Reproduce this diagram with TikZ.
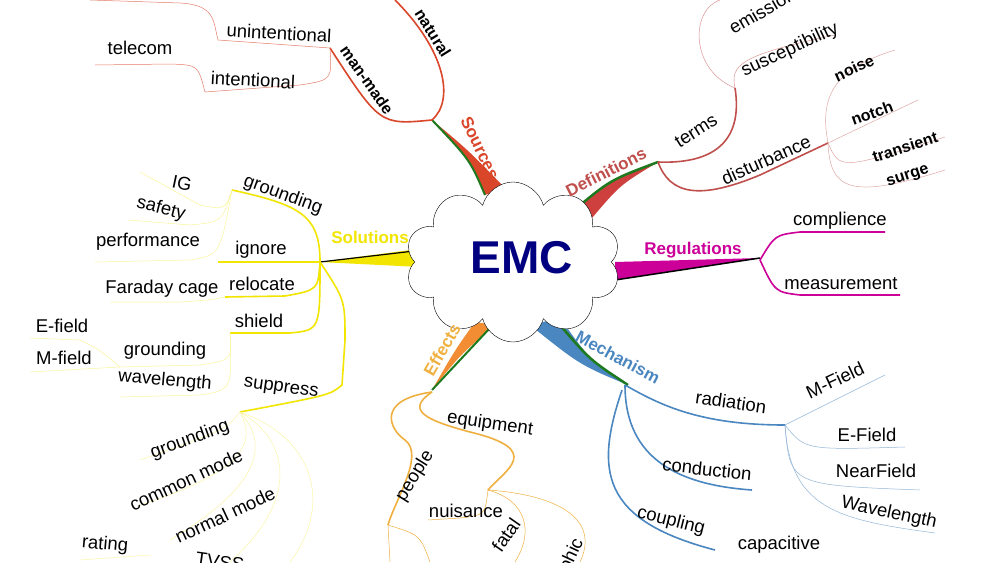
\documentclass[tikz,border=0pt]{standalone}
\usepackage{fontspec}
\setmainfont{Liberation Sans}
\usetikzlibrary{shapes.symbols}
\definecolor{csrc}{HTML}{D9462A}
\definecolor{cdef}{HTML}{C0504D}
\definecolor{creg}{HTML}{CC0099}
\definecolor{cmec}{HTML}{4A86C0}
\definecolor{ceff}{HTML}{F0B040}
\definecolor{csol}{HTML}{F2E600}
\definecolor{cgrn}{HTML}{1E7A1E}
\tikzset{
 lbl/.style={font=\fontsize{18.5}{21}\selectfont,inner sep=1pt},
 blbl/.style={font=\bfseries\fontsize{16}{19}\selectfont,inner sep=1pt},
 mlbl/.style={font=\bfseries\fontsize{17}{20}\selectfont,inner sep=1pt},
 br/.style={line width=1.6pt},
 thin/.style={line width=0.5pt},
}
\begin{document}
\begin{tikzpicture}[x=1pt,y=-1pt]
\clip (0,0) rectangle (1000,562);
\fill[white] (0,0) rectangle (1000,562);
% ---------- main tapered branches ----------
\fill[csrc] (485,195) .. controls (470,160) .. (432,120) .. controls (468,150) .. (505,188) -- cycle;
\draw[cgrn,line width=2pt] (485,195) .. controls (470,160) .. (432,120);
\fill[cdef!80!red] (572,212) .. controls (610,180) .. (658,162) .. controls (620,185) .. (592,218) -- cycle;
\draw[cgrn,line width=2.5pt] (572,212) .. controls (610,180) .. (658,162);
\fill[creg] (615,262) -- (760,258) -- (615,280) -- cycle;
\draw[black,line width=1.5pt] (615,280) -- (760,258);
\fill[cmec] (530,325) .. controls (580,365) .. (628,385) .. controls (590,360) .. (560,318) -- cycle;
\draw[cgrn,line width=2.5pt] (560,325) .. controls (590,360) .. (628,385);
\fill[ceff!80!red] (475,322) .. controls (455,350) .. (432,390) .. controls (460,355) .. (495,325) -- cycle;
\draw[cgrn,line width=2pt] (490,328) .. controls (460,360) .. (432,390);
\fill[csol] (440,246) -- (320,262) -- (440,268) -- cycle;
\draw[black,line width=1.2pt] (440,248) -- (320,262);
% ---------- cloud ----------
\node[cloud,cloud puffs=10,aspect=1.45,draw,fill=white,minimum width=215pt,minimum height=160pt,inner sep=0pt] (emc) at (513,262) {};
\node[font=\bfseries\fontsize{46}{50}\selectfont,text=blue!50!black] (emct) at (522,258) {EMC};
% ---------- main labels ----------
\node[mlbl,text=csrc,rotate=-64] (lsrc) at (480,148) {Sources};
\node[mlbl,text=cdef,rotate=27] (ldef) at (606,172) {Definitions};
\node[mlbl,text=creg] (lreg) at (693,250) {Regulations};
\node[mlbl,text=cmec,rotate=-28] (lmec) at (618,357) {Mechanism};
\node[mlbl,text=ceff,rotate=60] (leff) at (442,350) {Effects};
\node[mlbl,text=csol] (lsol) at (370,237) {Solutions};
% ---------- Sources ----------
\coordinate (hs) at (432,120);
\coordinate (mm) at (330,48);
\draw[csrc,br] (hs) .. controls (380,125) .. (330,48);
\draw[csrc,br] (hs) .. controls (455,100) and (445,50) .. (395,0);
\node[blbl,rotate=-55] (tmm) at (367,80) {man-made};
\node[blbl,rotate=-58] (tnat) at (433,33) {natural};
\draw[csrc!70,thin] (mm) -- (218,40) .. controls (213,20) and (215,5) .. (180,3) -- (90,0);
\node[lbl,rotate=-3] (tun) at (279,33) {unintentional};
\draw[csrc!70,thin] (mm) .. controls (332,80) .. (300,85) -- (205,92) .. controls (198,65) .. (170,64) -- (95,65);
\node[lbl,rotate=-3] (tint) at (253,80) {intentional};
\node[lbl] (ttel) at (140,48) {telecom};
% ---------- Definitions ----------
\coordinate (hd) at (658,162);
\coordinate (ht) at (735,88);
\coordinate (hdi) at (828,143);
\draw[cdef,br] (hd) .. controls (735,165) and (740,120) .. (ht);
\node[lbl,rotate=32] (tterm) at (696,131) {terms};
\draw[cdef,br] (hd) .. controls (670,195) and (700,200) .. (760,175) -- (hdi);
\node[lbl,rotate=24] (tdis) at (766,160) {disturbance};
\draw[cdef!60,thin] (ht) .. controls (690,70) and (690,10) .. (720,0);
\node[lbl,rotate=30] (temi) at (762,11) {emission};
\draw[cdef!60,thin] (ht) .. controls (730,65) and (740,55) .. (835,35);
\node[lbl,rotate=25] (tsus) at (790,50) {susceptibility};
\draw[cdef!50,thin] (hdi) .. controls (820,100) and (830,70) .. (895,50);
\draw[cdef!50,thin] (hdi) -- (918,100);
\draw[cdef!50,thin] (hdi) .. controls (840,170) .. (945,137);
\draw[cdef!50,thin] (hdi) .. controls (830,190) and (850,200) .. (945,170);
\node[blbl,rotate=25] (tnoi) at (854,68) {noise};
\node[blbl,rotate=20] (tnot) at (872,113) {notch};
\node[blbl,rotate=18] (ttra) at (905,147) {transient};
\node[blbl,rotate=18] (tsur) at (908,177) {surge};
% ---------- Regulations ----------
\coordinate (hr) at (760,260);
\draw[creg,br] (hr) .. controls (775,235) .. (800,232) -- (885,232);
\draw[creg,br] (hr) .. controls (775,292) .. (800,295) -- (900,295);
\node[lbl] (tcom) at (840,221) {complience};
\node[lbl] (tmea) at (841,284) {measurement};
% ---------- Mechanism ----------
\coordinate (hm) at (625,385);
\coordinate (hra) at (785,425);
\draw[cmec,br] (hm) .. controls (660,405) and (700,425) .. (hra);
\node[lbl,rotate=-8] (trad) at (731,402) {radiation};
\draw[cmec,br] (hm) .. controls (625,460) and (680,485) .. (752,490);
\node[lbl,rotate=-6] (tcon) at (707,469) {conduction};
\draw[cmec,br] (622,390) .. controls (595,470) and (600,520) .. (715,550);
\node[lbl,rotate=-14] (tcou) at (671,521) {coupling};
\node[lbl] (tcap) at (779,545) {capacitive};
\draw[cmec!60,thin] (hra) -- (885,375);
\draw[cmec!60,thin] (hra) .. controls (805,450) .. (905,447);
\draw[cmec!60,thin] (hra) .. controls (790,485) .. (920,490);
\draw[cmec!60,thin] (hra) .. controls (790,510) and (840,520) .. (935,533);
\node[lbl,rotate=25] (tmf) at (835,380) {M-Field};
\node[lbl] (tef) at (867,435) {E-Field};
\node[lbl] (tnf) at (876,471) {NearField};
\node[lbl,rotate=-12] (twl) at (889,513) {Wavelength};
% ---------- Effects ----------
\coordinate (he) at (432,392);
\coordinate (heq) at (488,490);
\coordinate (hpe) at (388,525);
\draw[ceff,br] (he) .. controls (405,410) and (425,420) .. (470,432) .. controls (545,450) and (505,470) .. (heq);
\node[lbl,rotate=-8] (tequ) at (490,424) {equipment};
\draw[ceff,br] (he) .. controls (375,400) and (390,430) .. (405,440) .. controls (425,455) and (395,500) .. (hpe);
\node[lbl,rotate=58] (tpeo) at (415,476) {people};
\draw[ceff,thin] (heq) .. controls (485,515) .. (460,518) -- (428,520);
\node[lbl] (tnui) at (466,511) {nuisance};
\draw[ceff,thin] (heq) .. controls (525,500) and (535,530) .. (515,562);
\draw[ceff,thin] (heq) .. controls (560,495) and (600,520) .. (580,562);
\node[lbl,rotate=55] (tfat) at (506,535) {fatal};
\node[lbl,rotate=65] (tcat) at (558,585) {catastrophic};
\draw[ceff,thin] (hpe) -- (390,562);
\draw[ceff,thin] (hpe) .. controls (420,535) .. (430,562);
% ---------- Solutions ----------
\coordinate (hso) at (320,262);
\coordinate (hgr) at (232,190);
\coordinate (hsh) at (230,333);
\coordinate (hsu) at (240,412);
\draw[csol,br] (hso) .. controls (320,215) and (300,205) .. (hgr);
\node[lbl,rotate=-20] (tgr) at (283,195) {grounding};
\draw[csol,br] (hso) -- (218,262);
\node[lbl] (tign) at (261,250) {ignore};
\draw[csol,br] (hso) .. controls (318,290) .. (285,296) -- (225,297);
\node[lbl] (trel) at (262,284) {relocate};
\draw[csol,br] (hso) .. controls (320,330) .. (290,333) -- (hsh);
\node[lbl] (tshi) at (259,321) {shield};
\draw[csol,br] (hso) .. controls (345,300) .. (345,340) -- (342,385) .. controls (330,395) .. (hsu);
\node[lbl,rotate=-8] (tsup) at (281,389) {suppress};
\draw[csol!40,thin] (hgr) .. controls (225,210) .. (200,205) -- (140,172);
\draw[csol!40,thin] (hgr) .. controls (222,222) .. (190,225) -- (128,220);
\draw[csol!40,thin] (hgr) .. controls (220,255) .. (190,260) -- (95,262);
\node[lbl,rotate=-12] (tig) at (182,183) {IG};
\node[lbl,rotate=-14] (tsaf) at (161,209) {safety};
\node[lbl] (tper) at (148,242) {performance};
\draw[csol!40,thin] (225,297) .. controls (210,300) .. (180,302) -- (110,302);
\node[lbl] (tfar) at (162,289) {Faraday cage};
\draw[csol!40,thin] (hsh) .. controls (232,360) .. (200,365) -- (120,367);
\draw[csol!40,thin] (hsh) .. controls (232,390) .. (200,395) -- (120,397);
\draw[csol!40,thin] (120,367) .. controls (100,350) .. (80,340) -- (30,338);
\draw[csol!40,thin] (120,367) -- (30,372);
\node[lbl] (tgr2) at (165,351) {grounding};
\node[lbl,rotate=-5] (twa2) at (165,381) {wavelength};
\node[lbl] (tefl) at (62,326) {E-field};
\node[lbl] (tmfl) at (64,358) {M-field};
\draw[csol!35,thin] (hsu) .. controls (225,430) .. (140,460);
\draw[csol!35,thin] (hsu) .. controls (255,440) and (250,470) .. (140,505);
\draw[csol!35,thin] (hsu) .. controls (265,440) and (270,480) .. (170,540);
\draw[csol!35,thin] (hsu) .. controls (290,440) and (300,500) .. (230,562);
\draw[csol!35,thin] (hsu) .. controls (320,440) and (330,510) .. (290,562);
\draw[csol!35,thin] (150,555) -- (80,560);
\node[lbl,rotate=20] (tgr3) at (190,440) {grounding};
\node[lbl,rotate=25] (tcm) at (186,480) {common mode};
\node[lbl,rotate=25] (tnm) at (225,515) {normal mode};
\node[lbl,rotate=-5] (trat) at (105,545) {rating};
\node[lbl,rotate=-8] (ttvs) at (220,562) {TVSS};
\end{tikzpicture}
\end{document}
